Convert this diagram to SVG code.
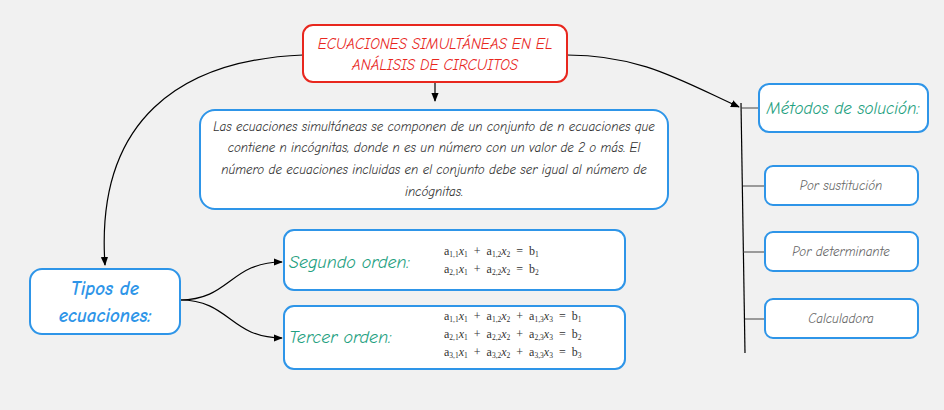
<svg xmlns="http://www.w3.org/2000/svg" width="944" height="410" viewBox="0 0 944 410">
<defs>
<marker id="ah" viewBox="0 0 10 10" refX="9" refY="5" markerWidth="9" markerHeight="9" orient="auto" markerUnits="userSpaceOnUse"><path d="M0,1 L10,5 L0,9 z" fill="#000"/></marker>
<style>
.box{fill:#fff;stroke:#2e95e8;stroke-width:2}
.hw{font-family:"Comic Neue","Liberation Sans",sans-serif;font-style:italic}
.eq{font-family:"Liberation Serif",serif;font-size:12px;fill:#333;word-spacing:3px}
.sub{font-size:7.5px;word-spacing:0}
.c{fill:none;stroke:#000;stroke-width:1.2}
.green{fill:#1fa181}
.gray{fill:#666;font-size:13px}
</style>
</defs>
<rect width="944" height="410" fill="#f1f1f1"/>
<g id="connectors">
<path class="c" d="M303,55 C180,60 95,120 105,265" marker-end="url(#ah)"/>
<path class="c" d="M435,82 L435,101" marker-end="url(#ah)"/>
<path class="c" d="M567,55 C640,55 680,80 739,107" marker-end="url(#ah)"/>
<path class="c" d="M180,300 C230,300 230,262 282,262" marker-end="url(#ah)"/>
<path class="c" d="M180,300 C230,300 230,338 282,338" marker-end="url(#ah)"/>
<path class="c" d="M741,103 L745,353"/>
<path d="M741,108 L760,108 M743,186 L765,186 M743,252 L765,252 M745,319 L765,319" stroke="#444" stroke-width="1.2"/>
</g>
<g id="title">
<rect x="303" y="25" width="264" height="57" rx="10" fill="#fff" stroke="#e8271e" stroke-width="2"/>
<text class="hw" x="435" y="49" text-anchor="middle" font-size="15" fill="#e8271e">ECUACIONES SIMULTÁNEAS EN EL</text>
<text class="hw" x="435" y="70" text-anchor="middle" font-size="15" fill="#e8271e">ANÁLISIS DE CIRCUITOS</text>
</g>
<g id="desc">
<rect class="box" x="200" y="110" width="468" height="99" rx="15"/>
<g class="hw" font-size="13" fill="#333" text-anchor="middle">
<text x="434" y="131">Las ecuaciones simultáneas se componen de un conjunto de n ecuaciones que</text>
<text x="434" y="152">contiene n incógnitas, donde n es un número con un valor de 2 o más. El</text>
<text x="434" y="174">número de ecuaciones incluidas en el conjunto debe ser igual al número de</text>
<text x="434" y="196">incógnitas.</text>
</g>
</g>
<g id="metodos">
<rect class="box" x="759" y="84" width="169" height="48" rx="10"/>
<text class="hw green" x="843" y="114" text-anchor="middle" font-size="17">Métodos de solución:</text>
</g>
<g id="sust"><rect class="box" x="765" y="166" width="153" height="39" rx="8"/><text class="hw gray" x="841" y="190" text-anchor="middle">Por sustitución</text></g>
<g id="det"><rect class="box" x="765" y="232" width="153" height="39" rx="8"/><text class="hw gray" x="841" y="256" text-anchor="middle">Por determinante</text></g>
<g id="calc"><rect class="box" x="765" y="299" width="153" height="39" rx="8"/><text class="hw gray" x="841" y="323" text-anchor="middle">Calculadora</text></g>
<g id="tipos">
<rect class="box" x="30" y="269" width="150" height="65" rx="12"/>
<text class="hw" x="105" y="295" text-anchor="middle" font-size="19" font-weight="bold" fill="#2e95e8">Tipos de</text>
<text class="hw" x="105" y="322" text-anchor="middle" font-size="19" font-weight="bold" fill="#2e95e8">ecuaciones:</text>
</g>
<g id="segundo">
<rect class="box" x="284" y="230" width="341" height="60" rx="10"/>
<text class="hw green" x="289" y="268" font-size="18">Segundo orden:</text>
<text class="eq" x="444" y="255">a<tspan class="sub" dy="2">1,1</tspan><tspan dy="-2" font-style="italic">x</tspan><tspan class="sub" dy="2">1</tspan><tspan dy="-2"> + a</tspan><tspan class="sub" dy="2">1,2</tspan><tspan dy="-2" font-style="italic">x</tspan><tspan class="sub" dy="2">2</tspan><tspan dy="-2"> = b</tspan><tspan class="sub" dy="2">1</tspan></text>
<text class="eq" x="444" y="273">a<tspan class="sub" dy="2">2,1</tspan><tspan dy="-2" font-style="italic">x</tspan><tspan class="sub" dy="2">1</tspan><tspan dy="-2"> + a</tspan><tspan class="sub" dy="2">2,2</tspan><tspan dy="-2" font-style="italic">x</tspan><tspan class="sub" dy="2">2</tspan><tspan dy="-2"> = b</tspan><tspan class="sub" dy="2">2</tspan></text>
</g>
<g id="tercer">
<rect class="box" x="284" y="306" width="341" height="63" rx="10"/>
<text class="hw green" x="289" y="343" font-size="18">Tercer orden:</text>
<text class="eq" x="444" y="320">a<tspan class="sub" dy="2">1,1</tspan><tspan dy="-2" font-style="italic">x</tspan><tspan class="sub" dy="2">1</tspan><tspan dy="-2"> + a</tspan><tspan class="sub" dy="2">1,2</tspan><tspan dy="-2" font-style="italic">x</tspan><tspan class="sub" dy="2">2</tspan><tspan dy="-2"> + a</tspan><tspan class="sub" dy="2">1,3</tspan><tspan dy="-2" font-style="italic">x</tspan><tspan class="sub" dy="2">3</tspan><tspan dy="-2"> = b</tspan><tspan class="sub" dy="2">1</tspan></text>
<text class="eq" x="444" y="338">a<tspan class="sub" dy="2">2,1</tspan><tspan dy="-2" font-style="italic">x</tspan><tspan class="sub" dy="2">1</tspan><tspan dy="-2"> + a</tspan><tspan class="sub" dy="2">2,2</tspan><tspan dy="-2" font-style="italic">x</tspan><tspan class="sub" dy="2">2</tspan><tspan dy="-2"> + a</tspan><tspan class="sub" dy="2">2,3</tspan><tspan dy="-2" font-style="italic">x</tspan><tspan class="sub" dy="2">3</tspan><tspan dy="-2"> = b</tspan><tspan class="sub" dy="2">2</tspan></text>
<text class="eq" x="444" y="356">a<tspan class="sub" dy="2">3,1</tspan><tspan dy="-2" font-style="italic">x</tspan><tspan class="sub" dy="2">1</tspan><tspan dy="-2"> + a</tspan><tspan class="sub" dy="2">3,2</tspan><tspan dy="-2" font-style="italic">x</tspan><tspan class="sub" dy="2">2</tspan><tspan dy="-2"> + a</tspan><tspan class="sub" dy="2">3,3</tspan><tspan dy="-2" font-style="italic">x</tspan><tspan class="sub" dy="2">3</tspan><tspan dy="-2"> = b</tspan><tspan class="sub" dy="2">3</tspan></text>
</g>
</svg>
